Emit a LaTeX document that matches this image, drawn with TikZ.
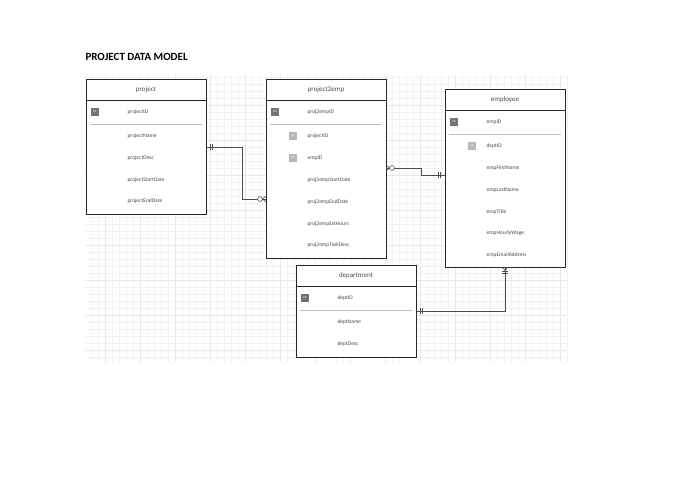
\documentclass[tikz,border=0pt]{standalone}
\usepackage{fontspec}
\setmainfont{Carlito}
\begin{document}
\begin{tikzpicture}[x=1pt,y=-1pt,
 tbl/.style={draw=black!85,line width=1.1pt,fill=white,anchor=north west,inner sep=0pt},
 hdr/.style={font=\fontsize{7}{8}\selectfont,text=black!70},
 fld/.style={font=\fontsize{5.5}{6}\selectfont,text=black!70,anchor=west},
 pk/.style={fill=black!55,minimum size=8pt,inner sep=0pt,text=white,font=\fontsize{3}{3}\selectfont},
 fk/.style={fill=black!28,minimum size=8pt,inner sep=0pt,text=white,font=\fontsize{3}{3}\selectfont},
 sep/.style={draw=black!25,line width=0.6pt},
 hline/.style={draw=black!85,line width=0.9pt},
 rel/.style={draw=black!70,line width=0.6pt}]
\fill[white] (0,0) rectangle (700,479);
\draw[black!5,line width=0.3pt] (85,75) grid[step=7pt] (567,362);
\draw[black!9,line width=0.4pt] (85,75) grid[step=35pt] (567,362);
\node[anchor=west,font=\bfseries\fontsize{11}{12}\selectfont] (title) at (82,57) {PROJECT DATA MODEL};
% project
\node[tbl,minimum width=120pt,minimum height=135pt] (project) at (86,79) {};
\draw[hline] (86,100)--(206,100);
\node[hdr] (ph) at (146,89.5) {project};
\node[pk] (pk1) at (95,112) {PK};
\draw[sep] (90,124)--(202,124);
\foreach \t/\y [count=\i] in {projectID/112,projectName/136,projectDesc/158,projectStartDate/180,projectEndDate/201}
 \node[fld] (pf\i) at (124,\y) {\t};
% project2emp
\node[tbl,minimum width=120pt,minimum height=179pt] (p2e) at (266,79) {};
\draw[hline] (266,100)--(386,100);
\node[hdr] (p2h) at (326,89.5) {project2emp};
\node[pk] (pk2) at (275,112) {PK};
\node[fk] (fk1) at (293,136) {FK};
\node[fk] (fk2) at (293,158) {FK};
\draw[sep] (270,124)--(382,124);
\foreach \t/\y [count=\i] in {proj2empID/112,projectID/136,empID/158,proj2empStartDate/180,proj2empEndDate/202,proj2empEstHours/224,proj2empTaskDesc/245}
 \node[fld] (qf\i) at (304,\y) {\t};
% employee
\node[tbl,minimum width=120pt,minimum height=178pt] (employee) at (445,89) {};
\draw[hline] (445,110)--(565,110);
\node[hdr] (eh) at (505,99.5) {employee};
\node[pk] (pk3) at (454,122) {PK};
\node[fk] (fk3) at (472,146) {FK};
\draw[sep] (449,134)--(561,134);
\foreach \t/\y [count=\i] in {empID/122,deptID/146,empFirstName/168,empLastName/190,empTitle/212,empHourlyWage/233,empEmailAddress/255}
 \node[fld] (ef\i) at (483,\y) {\t};
% department
\node[tbl,minimum width=120pt,minimum height=92pt] (department) at (296,265) {};
\draw[hline] (296,286)--(416,286);
\node[hdr] (dh) at (356,275.5) {department};
\node[pk] (pk4) at (305,298) {PK};
\draw[sep] (300,310)--(412,310);
\foreach \t/\y [count=\i] in {deptID/298,deptName/322,deptDesc/344}
 \node[fld] (df\i) at (334,\y) {\t};
% relations
\coordinate (a1) at (206,147); \coordinate (a2) at (266,199);
\draw[rel] (a1) -- (242,147) -- (242,199) -- (a2);
\draw[rel] (210,144)--(210,150) (212,144)--(212,150);
\draw[rel,fill=white] (260,199) circle (2.4pt);
\draw[rel] (266,196)--(262.5,199)--(266,202);
\coordinate (b1) at (386,168); \coordinate (b2) at (445,175);
\draw[rel] (b1) -- (421,168) -- (421,175) -- (b2);
\draw[rel] (386,165)--(389.5,168)--(386,171);
\draw[rel,fill=white] (392,168) circle (2.4pt);
\draw[rel] (438,172)--(438,178) (440,172)--(440,178);
\coordinate (c1) at (416,311); \coordinate (c2) at (505,267);
\draw[rel] (c1) -- (505,311) -- (c2);
\draw[rel] (420,308)--(420,314) (422,308)--(422,314);
\draw[rel] (502,273)--(508,273) (502,271)--(508,271);
\draw[rel] (502,267)--(505,270.5)--(508,267);
\end{tikzpicture}
\end{document}
